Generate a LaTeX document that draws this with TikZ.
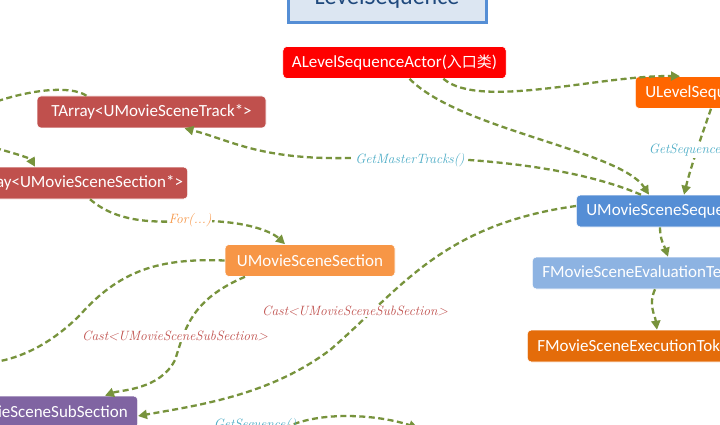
\documentclass[tikz,border=0pt]{standalone}
\usepackage{fontspec}
\setmainfont{Carlito}
\newfontfamily\cjk{Noto Sans CJK SC}
\newfontfamily\lab{Latin Modern Roman}
\usetikzlibrary{arrows.meta}
\definecolor{eg}{HTML}{77933C}
\definecolor{lb}{HTML}{4BACC6}
\definecolor{lr}{HTML}{C0504D}
\definecolor{lo}{HTML}{F79646}
\begin{document}
\begin{tikzpicture}[x=1pt,y=-1pt,
  box/.style={rounded corners=4pt,draw=white,line width=0.6pt,text=white,font=\fontsize{17}{19}\selectfont,minimum height=32pt,inner xsep=9pt},
  e/.style={draw=eg,line width=2.3pt,dash pattern=on 6pt off 3.5pt,-{Triangle[length=9pt,width=9pt]}},
  en/.style={draw=eg,line width=2.3pt,dash pattern=on 6pt off 3.5pt},
  lbl/.style={font=\lab\itshape\fontsize{13.5}{15}\selectfont,fill=white,inner sep=1pt}]
\useasboundingbox (0,0) rectangle (720,425);
\clip (0,0) rectangle (720,425);
\fill[white] (0,0) rectangle (720,425);
\node[draw={rgb,255:red,85;green,142;blue,213},line width=3pt,fill={rgb,255:red,220;green,230;blue,242},minimum width=198pt,minimum height=50pt,font=\fontsize{24}{26}\selectfont,text={rgb,255:red,31;green,73;blue,125}] (ls) at (387,-2) {LevelSequence};
\node[box,fill={rgb,255:red,255;green,0;blue,0},minimum width=221pt] (act) at (394.5,62.5) {ALevelSequenceActor({\cjk\fontsize{15}{17}\selectfont 入口类})};
\node[box,fill={rgb,255:red,255;green,102;blue,0},anchor=west,minimum width=120pt,text width=100pt,align=left] (uls) at (635,92.5) {ULevelSequence};
\node[box,fill=lr,minimum width=229pt] (trk) at (151.5,112) {TArray<UMovieSceneTrack*>};
\node[box,fill=lr,anchor=east,minimum width=230pt,text width=210pt,align=right] (sec) at (188,183) {TArray<UMovieSceneSection*>};
\node[box,fill={rgb,255:red,85;green,142;blue,213},anchor=west,minimum width=180pt,text width=160pt,align=left] (seq) at (576,211) {UMovieSceneSequence};
\node[box,fill=lo,minimum width=170pt] (ms) at (310,260.5) {UMovieSceneSection};
\node[box,fill={rgb,255:red,141;green,179;blue,226},anchor=west,minimum width=240pt,text width=220pt,align=left] (ev) at (532,273) {FMovieSceneEvaluationTemplate};
\node[box,fill={rgb,255:red,228;green,108;blue,10},anchor=west,minimum width=240pt,text width=220pt,align=left] (ex) at (527,346) {FMovieSceneExecutionToken};
\node[box,fill={rgb,255:red,128;green,100;blue,162},anchor=east,minimum width=220pt,text width=200pt,align=right] (sub) at (138,412) {UMovieSceneSubSection};
\coordinate (l1) at (-5,102);
\coordinate (l2) at (-5,148);
\coordinate (l3) at (-5,362);
\coordinate (b1) at (285,428);
\coordinate (b2) at (418,428);
% edges
\draw[e] ([xshift=-63pt]act.south east) .. controls (480,110) and (600,75) .. ([xshift=45pt]uls.north west);
\draw[e] ([xshift=15pt]act.south) .. controls (460,130) and (620,150) .. ([xshift=73pt]seq.north west);
\draw[e] ([xshift=76pt]uls.south west) .. controls (700,140) and (690,170) .. ([xshift=108pt]seq.north west);
\draw[e] ([xshift=65pt]seq.north west) .. controls (560,160) and (430,155) .. (350,158) .. controls (260,160) and (230,140) .. ([xshift=33pt]trk.south);
\node[lbl,text=lb] at (410,160) {GetMasterTracks()};
\node[lbl,text=lb] at (690,150) {GetSequence()};
\draw[en] ([xshift=-65pt]trk.north) .. controls (70,85) and (30,90) .. (l1);
\draw[e] (l2) .. controls (10,152) and (30,158) .. ([xshift=-153pt]sec.north east);
\draw[e] ([xshift=-98pt]sec.south east) .. controls (120,225) and (160,222) .. (195,221) .. controls (240,220) and (270,230) .. ([xshift=-25pt]ms.north);
\node[lbl,text=lo] at (190,220) {For(...)};
\draw[en] (ms.west) .. controls (160,258) and (120,270) .. (80,315) .. controls (50,345) and (20,358) .. (l3);
\draw[e] ([xshift=-65pt]ms.south) .. controls (190,300) and (185,330) .. (175,360) .. controls (160,390) and (120,390) .. ([xshift=-33pt]sub.north east);
\node[lbl,text=lr] at (175,336) {Cast<UMovieSceneSubSection>};
\draw[e] ([yshift=5pt]seq.west) .. controls (440,225) and (400,290) .. (330,350) .. controls (270,395) and (200,405) .. ([yshift=-4pt]sub.east);
\node[lbl,text=lr] at (355,311) {Cast<UMovieSceneSubSection>};
\draw[e] ([xshift=84pt]seq.south west) .. controls (660,240) and (664,245) .. ([xshift=136pt]ev.north west);
\draw[e] ([xshift=123pt]ev.south west) .. controls (648,305) and (655,315) .. ([xshift=130pt]ex.north west);
\draw[e] (b1) .. controls (320,410) and (380,415) .. (b2);
\node[lbl,text=lb,fill=none,anchor=north] at (255,417) {GetSequence()};
\end{tikzpicture}
\end{document}
